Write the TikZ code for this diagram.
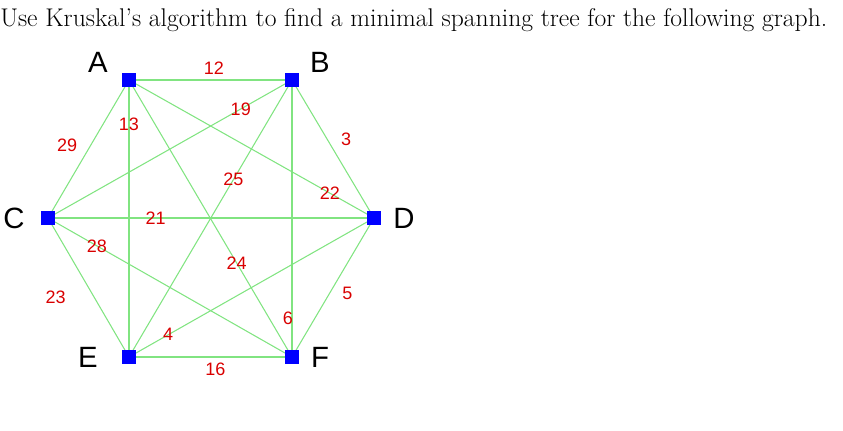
\documentclass[tikz,border=0pt]{standalone}
\usepackage{fontspec}
\newfontfamily\lab{Liberation Sans}
\begin{document}
\begin{tikzpicture}[x=0.75pt,y=-0.75pt,
  vtx/.style={fill=blue,minimum size=10pt,inner sep=0pt},
  edge/.style={draw=green!65!gray!60!white,line width=0.8pt},
  wt/.style={text=red!85!black,font=\lab\fontsize{13.5}{13.5}\selectfont,inner sep=1pt},
  vlabel/.style={font=\lab\fontsize{22}{22}\selectfont}]
\useasboundingbox (0,0) rectangle (843,430);
\node[anchor=west,font=\fontsize{19.2}{20}\selectfont,inner sep=0pt] (title) at (0,20) {Use Kruskal's algorithm to find a minimal spanning tree for the following graph.};
\coordinate (A) at (129,80); \coordinate (B) at (292,80);
\coordinate (C) at (48,218); \coordinate (D) at (374,218);
\coordinate (E) at (129,357); \coordinate (F) at (292,357);
\draw[edge] (A) -- node[wt,pos=0.52,above=3pt] {12} (B);
\draw[edge] (A) -- node[wt,pos=0.47,left=9pt] {29} (C);
\draw[edge] (B) -- node[wt,pos=0.43,right=9pt] {3} (D);
\draw[edge] (C) -- node[wt,pos=0.57,left=20pt] {23} (E);
\draw[edge] (D) -- node[wt,pos=0.54,right=8pt] {5} (F);
\draw[edge] (E) -- node[wt,pos=0.53,below=3pt] {16} (F);
\draw[edge] (B) -- node[wt,pos=0.21] {19} (C);
\draw[edge] (A) -- node[wt,pos=0.16] {13} (E);
\draw[edge] (B) -- node[wt,pos=0.36] {25} (E);
\draw[edge] (A) -- node[wt,pos=0.82] {22} (D);
\draw[edge] (C) -- node[wt,pos=0.33] {21} (D);
\draw[edge] (C) -- node[wt,pos=0.2] {28} (F);
\draw[edge] (A) -- node[wt,pos=0.66] {24} (F);
\draw[edge] (B) -- node[wt,pos=0.86,xshift=-3pt] {6} (F);
\draw[edge] (D) -- node[wt,pos=0.84] {4} (E);
\foreach \v in {A,B,C,D,E,F} \node[vtx] (n\v) at (\v) {};
\node[vlabel] (lA) at (98,62) {A};
\node[vlabel] (lB) at (320,62) {B};
\node[vlabel] (lC) at (14,218) {C};
\node[vlabel] (lD) at (404,218) {D};
\node[vlabel] (lE) at (88,357) {E};
\node[vlabel] (lF) at (320,357) {F};
\end{tikzpicture}
\end{document}
